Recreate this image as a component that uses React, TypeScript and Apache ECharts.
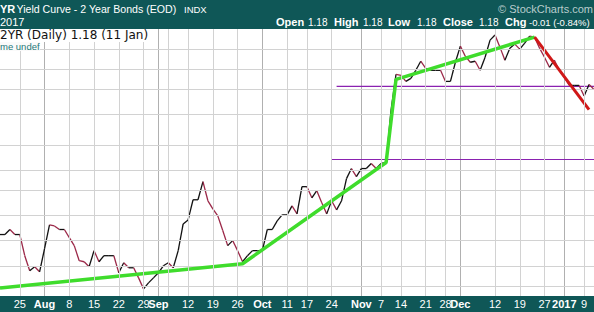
import React, { useEffect, useRef } from "react";
import * as echarts from "echarts";

// ---- trading days (categories) ----
const jul16 = [19, 20, 21, 22, 25, 26, 27, 28, 29];
const aug16 = [1, 2, 3, 4, 5, 8, 9, 10, 11, 12, 15, 16, 17, 18, 19, 22, 23, 24, 25, 26, 29, 30, 31];
const sep16 = [1, 2, 6, 7, 8, 9, 12, 13, 14, 15, 16, 19, 20, 21, 22, 23, 26, 27, 28, 29, 30];
const oct16 = [3, 4, 5, 6, 7, 11, 12, 13, 14, 17, 18, 19, 20, 21, 24, 25, 26, 27, 28, 31];
const nov16 = [1, 2, 3, 4, 7, 8, 9, 10, 14, 15, 16, 17, 18, 21, 22, 23, 25, 28, 29, 30];
const dec16 = [1, 2, 5, 6, 7, 8, 9, 12, 13, 14, 15, 16, 19, 20, 21, 22, 23, 27, 28, 29, 30];
const jan17 = [3, 4, 5, 6, 9, 10, 11];

// ---- 2 year yield closes (%) ----
const yieldJul = [0.892, 0.892, 0.902, 0.892, 0.892, 0.85, 0.82, 0.828, 0.818];
const yieldAug = [0.864, 0.911, 0.909, 0.902, 0.902, 0.886, 0.87, 0.84, 0.838, 0.828, 0.86, 0.838, 0.85, 0.85, 0.85, 0.816, 0.836, 0.826, 0.826, 0.806, 0.784, 0.796, 0.806];
const yieldSep = [0.816, 0.83, 0.836, 0.826, 0.86, 0.913, 0.921, 0.961, 0.961, 0.997, 0.959, 0.943, 0.929, 0.9, 0.87, 0.88, 0.86, 0.838, 0.85, 0.86, 0.86];
const yieldOct = [0.86, 0.902, 0.902, 0.919, 0.931, 0.931, 0.949, 0.933, 0.987, 0.987, 0.965, 0.979, 0.955, 0.933, 0.959, 0.941, 0.959, 1.003, 1.023, 1.007];
const yieldNov = [1.023, 1.023, 1.033, 1.023, 1.033, 1.035, 1.139, 1.21, 1.208, 1.196, 1.202, 1.218, 1.236, 1.222, 1.218, 1.218, 1.218, 1.196, 1.196, 1.234];
const yieldDec = [1.266, 1.246, 1.234, 1.236, 1.218, 1.244, 1.278, 1.288, 1.264, 1.238, 1.262, 1.27, 1.26, 1.272, 1.286, 1.284, 1.262, 1.244, 1.224, 1.238, 1.218];
const yieldJan = [1.204, 1.188, 1.188, 1.188, 1.167, 1.19, 1.18];

// ---- x axis tick labels [date, text, isMonth] ----
const tickLabels: [string, string, boolean][] = [
  ["2016-07-25", "25", false], ["2016-08-01", "Aug", true], ["2016-08-08", "8", false],
  ["2016-08-15", "15", false], ["2016-08-22", "22", false], ["2016-08-29", "29", false],
  ["2016-09-01", "Sep", true], ["2016-09-12", "12", false], ["2016-09-19", "19", false],
  ["2016-09-26", "26", false], ["2016-10-03", "Oct", true], ["2016-10-11", "11", false],
  ["2016-10-17", "17", false], ["2016-10-24", "24", false], ["2016-11-01", "Nov", true],
  ["2016-11-07", "7", false], ["2016-11-14", "14", false], ["2016-11-21", "21", false],
  ["2016-11-28", "28", false], ["2016-12-01", "Dec", true], ["2016-12-12", "12", false],
  ["2016-12-19", "19", false], ["2016-12-27", "27", false], ["2017-01-03", "2017", true],
  ["2017-01-09", "9", false],
];
const weekLines = ["2016-07-25", "2016-08-08", "2016-08-15", "2016-08-22", "2016-08-29", "2016-09-06",
  "2016-09-12", "2016-09-19", "2016-09-26", "2016-10-11", "2016-10-17", "2016-10-24", "2016-11-07",
  "2016-11-14", "2016-11-21", "2016-11-28", "2016-12-12", "2016-12-19", "2016-12-27", "2017-01-09"];
const monthLines = ["2016-08-01", "2016-09-01", "2016-10-03", "2016-11-01", "2016-12-01", "2017-01-03"];
const yGridLines = [1.262, 1.22, 1.176, 1.133, 1.073, 1.025, 0.979, 0.931, 0.884, 0.834, 0.786];

// ---- annotations ----
const greenTrend: [string, number][] = [
  ["2016-07-19", 0.786], ["2016-09-27", 0.834], ["2016-11-08", 1.035], ["2016-11-10", 1.2], ["2016-12-22", 1.284],
];
const redTrend: [string, number][] = [["2016-12-22", 1.284], ["2017-01-10", 1.14]];
const purpleUpper: [string, number][] = [["2016-10-25", 1.186], ["2017-01-11", 1.186]];
const purpleLower: [string, number][] = [["2016-10-24", 1.041], ["2017-01-11", 1.041]];

const pad = (n: number) => (n < 10 ? "0" + n : "" + n);
const monthDays: [string, number[]][] = [
  ["2016-07", jul16], ["2016-08", aug16], ["2016-09", sep16], ["2016-10", oct16],
  ["2016-11", nov16], ["2016-12", dec16], ["2017-01", jan17],
];
const categories: string[] = monthDays.flatMap(([ym, days]) => days.map((d) => `${ym}-${pad(d)}`));
const prices: number[] = [...yieldJul, ...yieldAug, ...yieldSep, ...yieldOct, ...yieldNov, ...yieldDec, ...yieldJan];

const TEAL = "#0f5757";
const SANS = '"Liberation Sans", Arial, sans-serif';

export default function App() {
  const ref = useRef<HTMLDivElement>(null);
  useEffect(() => {
    if (!ref.current) return;
    const chart = echarts.init(ref.current, undefined, { renderer: "svg" });
    const labelMap: Record<string, [string, boolean]> = {};
    tickLabels.forEach(([d, t, b]) => (labelMap[d] = [t, b]));
    const weekSet = new Set(weekLines);
    const monthSet = new Set(monthLines);
    const segs = prices.slice(0, -1).map((v, i) => [i, v, prices[i + 1]]);

    const txt = (x: number, y: number, text: string, font: string, fill: string, extra: any = {}) => ({
      type: "text", x, y, z: 100,
      style: { text, font, fill, textVerticalAlign: "middle", textAlign: "left", ...extra },
    });

    chart.setOption({
      animation: false,
      backgroundColor: TEAL,
      grid: { left: 0, right: -6, top: 29, bottom: 16, show: true, backgroundColor: "#ffffff", borderWidth: 0 },
      xAxis: [
        {
          type: "category", data: categories, boundaryGap: false, z: 10,
          axisLine: { show: false }, axisTick: { show: false },
          axisLabel: {
            interval: (_i: number, v: string) => !!labelMap[v],
            margin: 2,
            formatter: (v: string) => {
              const l = labelMap[v];
              if (!l) return "";
              return l[1] ? `{b|${l[0]}}` : `{n|${l[0]}}`;
            },
            rich: {
              b: { color: "#ffffff", fontWeight: "bold", fontSize: 11, fontFamily: SANS },
              n: { color: "#ffffff", fontSize: 11, fontFamily: SANS },
            },
          },
          splitLine: { show: true, interval: (_i: number, v: string) => weekSet.has(v), lineStyle: { color: "#d2d2d2", width: 1 } },
        },
        {
          type: "category", data: categories, boundaryGap: false, position: "bottom",
          axisLine: { show: false }, axisTick: { show: false }, axisLabel: { show: false },
          splitLine: { show: true, interval: (_i: number, v: string) => monthSet.has(v), lineStyle: { color: "#b0b0b0", width: 1 } },
        },
      ],
      yAxis: { type: "value", min: 0.77, max: 1.3, show: false, splitLine: { show: false } },
      series: [
        {
          type: "line", name: "grid", data: [], z: 1, silent: true,
          markLine: {
            silent: true, symbol: "none", label: { show: false },
            lineStyle: { color: "#d2d2d2", width: 1, type: "solid" },
            data: yGridLines.map((v) => ({ yAxis: v })),
          },
        },
        {
          type: "line", name: "upper level", data: purpleUpper, symbol: "none", z: 3,
          lineStyle: { color: "#8a22b0", width: 1.2 },
        },
        {
          type: "line", name: "lower level", data: purpleLower, symbol: "none", z: 3,
          lineStyle: { color: "#8a22b0", width: 1.2 },
        },
        {
          type: "custom", name: "$UST2YR", data: segs, z: 4,
          encode: { x: 0, y: [1, 2] },
          renderItem: (_p: any, api: any) => {
            const i = api.value(0);
            const a = api.value(1);
            const b = api.value(2);
            const p1 = api.coord([i, a]);
            const p2 = api.coord([i + 1, b]);
            return {
              type: "line",
              shape: { x1: p1[0], y1: p1[1], x2: p2[0], y2: p2[1] },
              style: { stroke: b >= a ? "#111111" : "#9b2848", lineWidth: 1.3 },
            };
          },
        },
        {
          type: "line", name: "green trend", data: greenTrend, symbol: "none", z: 6,
          lineStyle: { color: "#3fdc2c", width: 3.5 },
        },
        {
          type: "line", name: "red trend", data: redTrend, symbol: "none", z: 6,
          lineStyle: { color: "#d01818", width: 3 },
        },
      ],
      graphic: [
        txt(0, 9, "YR", `bold 11px ${SANS}`, "#ffffff"),
        txt(16.5, 9, "Yield Curve - 2 Year Bonds (EOD)", `10.6px ${SANS}`, "#ffffff"),
        txt(184, 9, "INDX", `9.5px ${SANS}`, "#ffffff"),
        txt(593, 9, "© StockCharts.com", `11px ${SANS}`, "#b9cccc", { textAlign: "right" }),
        txt(0, 22, "2017", `11px ${SANS}`, "#ffffff"),
        txt(276, 22, "Open", `bold 11px ${SANS}`, "#ffffff"),
        txt(308, 22, "1.18", `10px ${SANS}`, "#ffffff"),
        txt(334, 22, "High", `bold 11px ${SANS}`, "#ffffff"),
        txt(363, 22, "1.18", `10px ${SANS}`, "#ffffff"),
        txt(388, 22, "Low", `bold 11px ${SANS}`, "#ffffff"),
        txt(417, 22, "1.18", `10px ${SANS}`, "#ffffff"),
        txt(443, 22, "Close", `bold 11px ${SANS}`, "#ffffff"),
        txt(479, 22, "1.18", `10px ${SANS}`, "#ffffff"),
        txt(505, 22, "Chg", `bold 11px ${SANS}`, "#ffffff"),
        txt(529, 22, "-0.01 (-0.84%)", `9.5px ${SANS}`, "#ffffff"),
        { type: "rect", x: 0, y: 29, z: 99, shape: { width: 144, height: 13 }, style: { fill: "#ffffff" } },
        { type: "rect", x: 0, y: 42, z: 99, shape: { width: 40, height: 9 }, style: { fill: "#fafafa" } },
        txt(0, 35, "2YR (Daily) 1.18 (11 Jan)", '12px "DejaVu Sans", Verdana, sans-serif', "#111111"),
        txt(0, 46, "me undef", `9.5px ${SANS}`, "#1d7878"),
      ],
    });
    return () => chart.dispose();
  }, []);
  return <div ref={ref} style={{ position: "fixed", left: 0, top: 0, width: 594, height: 312 }} />;
}
